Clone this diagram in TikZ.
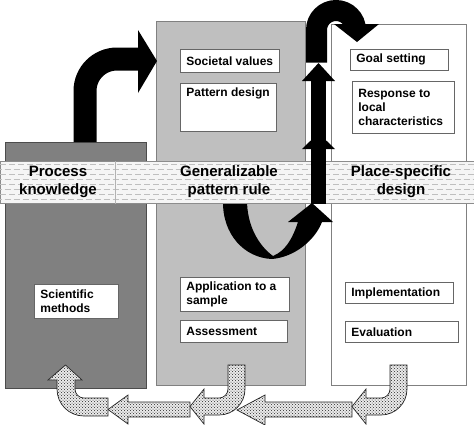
\documentclass[tikz,border=0pt]{standalone}
\usepackage{fontspec}
\setmainfont{Liberation Sans}
\usetikzlibrary{patterns,calc}
\newcommand{\boxfont}{\fontsize{12}{14}\selectfont\bfseries}
\newcommand{\bandfont}{\fontsize{15}{18}\selectfont\bfseries}
\newcommand{\fixw}[2]{\makebox[#1][l]{#2}}
\tikzset{
    column/.style={anchor=north west, line width=0.8pt, inner sep=0pt},
    inbox/.style={anchor=north west, draw=black!60, fill=white, line width=0.8pt,
        align=left, font=\boxfont, inner xsep=6pt, inner ysep=3pt},
    bandlabel/.style={font=\bandfont, align=center},
    bandline/.style={draw=black!25, line width=0.7pt, dash pattern=on 6pt off 3pt},
    heavy/.style={fill=black},
    stipple/.style={draw=black!85, line width=0.7pt, preaction={fill=black!8},
        pattern=crosshatch dots, pattern color=black!85},
}
\begin{document}
\begin{tikzpicture}[x=1pt, y=-1pt]
            \useasboundingbox (0,0) rectangle (474,424);
            % the three columns
            \node[column, draw=black!70, fill=black!50, minimum width=141pt, minimum height=246pt] (procol) at (5,142) {};
            \node[column, draw=black!50, fill=black!25, minimum width=149pt, minimum height=364pt] (gencol) at (156,21) {};
            \node[column, draw=black!50, fill=white, minimum width=135pt, minimum height=361pt] (placecol) at (331,24) {};
            % boxes inside the columns
            \node[inbox, minimum height=23pt] (societal) at (180,49) {\fixw{87pt}{Societal values}};
            \node[inbox, text depth=31pt, inner ysep=4pt] (patdesign) at (180,83) {\fixw{84pt}{Pattern design}};
            \node[inbox, minimum height=21pt] (goal) at (350,49) {\fixw{86pt}{Goal setting}};
            \node[inbox, minimum height=52pt] (response) at (352,81) {\fixw{90pt}{Response to}\\local\\characteristics};
            \node[inbox, minimum height=34pt] (scientific) at (34,284) {\fixw{72pt}{Scientific}\\methods};
            \node[inbox, minimum height=34pt] (application) at (180,277) {\fixw{97pt}{Application to a}\\sample};
            \node[inbox, minimum height=22pt] (assessment) at (180,320) {\fixw{95pt}{Assessment}};
            \node[inbox, minimum height=21pt] (implementation) at (345,282) {\fixw{96pt}{Implementation}};
            \node[inbox, minimum height=21pt] (evaluation) at (345,321) {\fixw{101pt}{Evaluation}};
            % black arrow: knowledge -> pattern rule
            \draw[line width=23pt, rounded corners=32pt] ($(procol.north west)+(80,0)$) |- ($(gencol.north west)+(-17,38)$);
            \fill[heavy] ($(gencol.north west)+(-18,9)$) -- ($(gencol.north west)+(1,40)$) -- ($(gencol.north west)+(-18,72)$) -- cycle;
            % black U below the band
            \fill[heavy] (223,200) .. controls (222,235) and (245,258) .. (272,259)
                .. controls (295,257) and (315,240) .. (322,222) -- (333,222) -- (312,203) -- (288,222) -- (298,222)
                .. controls (292,240) and (285,251) .. (273,256) .. controls (258,245) and (247,225) .. (247,200) -- cycle;
            % the band
            \node[column, draw=black!45, fill=black!4, minimum width=474pt, minimum height=42pt] (band) at (0,161) {};
            \foreach \yy/\ph in {164/0,169/4.5,174/0,179/4.5,184/0,189/4.5,194/0,199/4.5}
                \draw[bandline, dash phase=\ph pt] (band.west |- 0,\yy) -- (band.east |- 0,\yy);
            \draw[draw=black!30, line width=0.8pt] ($(band.north west)+(115,0)$) -- ($(band.south west)+(115,0)$);
            \node[bandlabel] (process) at (58,182) {Process\\knowledge};
            \node[bandlabel] (rule) at (229,182) {Generalizable\\pattern rule};
            \node[bandlabel] (placespec) at (401,182) {Place-specific\\design};
            % black shaft up to goal setting
            \fill[heavy] (311,81) rectangle (326,204);
            \fill[heavy] (302,149) -- (318.5,133) -- (335,149) -- cycle;
            \fill[heavy] (302,81) -- (318.5,63) -- (335,81) -- cycle;
            \draw[line width=21pt] (316.5,62.5) -- (316.5,30) arc[start angle=180, end angle=360, radius=19.5];
            \fill[heavy] (334,24) -- (379,24) -- (357,42) -- cycle;
            % dotted feedback arrows
            \draw[stipple] (352,402) -- (265,402) -- (265,395) -- (237,410) -- (265,425) -- (265,417) -- (352,417) -- cycle;
            \draw[stipple] (190,402) -- (128,402) -- (128,395) -- (108,409.5) -- (128,424) -- (128,417) -- (190,417) -- cycle;
            \draw[stipple] (390,365) -- (407,365) -- (407,389) .. controls (407,403.4) and (395.4,415) .. (381,415)
                -- (366,415) -- (366,424) -- (352,406.5) -- (366,389) -- (366,398) -- (381,398)
                .. controls (386,398) and (390,394) .. (390,389) -- cycle;
            \draw[stipple] (228,365) -- (245,365) -- (245,389) .. controls (245,403.4) and (233.4,415) .. (219,415)
                -- (204,415) -- (204,424) -- (190,406.5) -- (204,389) -- (204,398) -- (219,398)
                .. controls (224,398) and (228,394) .. (228,389) -- cycle;
            \draw[stipple] (108,398) -- (84,398) .. controls (79,398) and (75,394) .. (75,389) -- (75,380) -- (82,380)
                -- (65.5,365) -- (48,380) -- (57,380) -- (57,389) .. controls (57,404) and (69,416) .. (84,416)
                -- (108,416) -- cycle;
\end{tikzpicture}
\end{document}
